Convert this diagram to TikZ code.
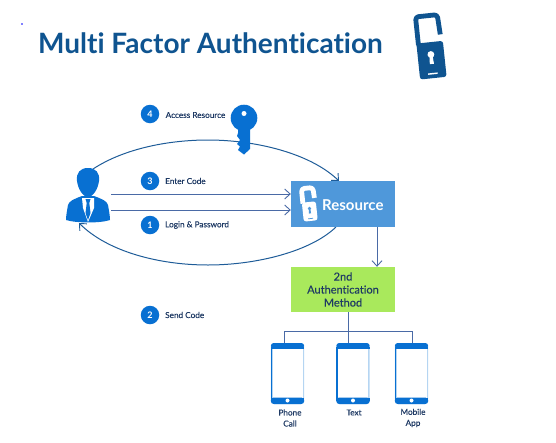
\documentclass[tikz,border=0pt]{standalone}
\usepackage{fontspec}
\setmainfont[Ligatures=NoCommon]{Lato}
\newfontfamily\latomid[FakeBold=0.2,Ligatures=NoCommon]{Lato}
\usetikzlibrary{arrows.meta}
\definecolor{titleblue}{HTML}{0F5490}
\definecolor{iconblue}{HTML}{0870D2}
\definecolor{arcblue}{HTML}{1E5C98}
\definecolor{linkblue}{HTML}{4A6AA6}
\definecolor{boxblue}{HTML}{4F98DA}
\definecolor{boxgreen}{HTML}{A9E95C}
\definecolor{navy}{HTML}{1F3A64}
\definecolor{paleblue}{HTML}{B5D5F2}
\tikzset{
  x=1pt,y=-1pt,
  arc/.style={draw=arcblue,line width=1pt},
  link/.style={draw=linkblue,line width=1pt},
  tip/.style={-{Straight Barb[length=5.5pt,width=10pt,line width=.9pt]}},
  badge/.style={circle,fill=iconblue,text=white,minimum size=18.5pt,inner sep=0pt,font=\fontsize{9}{9}\selectfont\bfseries},
  caption/.style={anchor=west,inner sep=0pt,text=navy,font=\fontsize{8.2}{9}\latomid\selectfont},
  phonelabel/.style={align=center,inner sep=0pt,text=navy,font=\fontsize{8.2}{11}\latomid\selectfont},
  phonebox/.style={minimum width=33pt,minimum height=61pt,inner sep=0pt},
  lockicon/.pic={
    \draw[lockfg,line width=4.8pt,line join=round,rounded corners=3pt] (-12,-2) -- (-12,-32) -- (11,-32) -- (12,-11);
    \fill[lockfg,rounded corners=2.5pt] (-14,-4) rectangle (14,34);
    \fill[lockbg] (0,9) circle (3.6);
    \fill[lockbg] (-1.6,10) -- (1.6,10) -- (2.2,19) -- (-2.2,19) -- cycle;
    \fill[lockbg] (-5,28.5) rectangle (5,30);
  },
  phoneicon/.pic={
    \fill[paleblue,rounded corners=3pt] (-16.7,-30.5) rectangle (16.7,30.5);
    \fill[white] (-15,-26) rectangle (15,26);
    \fill[iconblue,rounded corners=3pt] (-16.7,-30.5) rectangle (16.7,-25);
    \fill[iconblue] (-16.7,-27) rectangle (16.7,-25);
    \fill[iconblue,rounded corners=3pt] (-16.7,24) rectangle (16.7,30.5);
    \fill[iconblue] (-16.7,24) rectangle (16.7,27);
    \fill[iconblue] (-16.7,-27) rectangle (-15.5,26);
    \fill[white] (0,27) circle (2);
  }
}
\begin{document}
\begin{tikzpicture}
\useasboundingbox (0,0) rectangle (556,442);
\fill[blue] (22,24) circle (.9);
\node[anchor=west,inner sep=0pt,text=titleblue,font=\fontsize{28}{32}\selectfont\bfseries] (title) at (38,43) {Multi Factor Authentication};
\colorlet{lockfg}{titleblue}\colorlet{lockbg}{white}
\pic at (430,46) [rotate=6,scale=.95] {lockicon};
% ellipse arcs
\draw[arc,tip] (93,169) .. controls (125,148) and (170,140) .. (208,140) .. controls (255,140) and (310,153) .. (339,181) coordinate (topend);
\draw[arc,tip] (336,227) .. controls (310,252) and (255,265) .. (208,265) .. controls (160,265) and (108,252) .. (79,223) coordinate (botend);
% key
\fill[iconblue] (244,118) circle (13.3);
\fill[iconblue] (238,126) -- (250,126) -- (250,149) -- (244,154.5) -- (238,150) -- (240,146.5) -- (237,144) -- (240,140) -- (237,136) -- (238,133) -- cycle;
\fill[white] (244,113.5) circle (2.5);
% person
\node[minimum width=44pt,minimum height=56pt,inner sep=0pt] (user) at (88,196) {};
\fill[iconblue] (88,168) .. controls (80,168) and (76,173) .. (77,181) .. controls (78,189) and (83,197) .. (88,197) .. controls (93,197) and (98,189) .. (99,181) .. controls (100,173) and (96,168) .. (88,168) -- cycle;
\fill[iconblue] (82,196) .. controls (74,199) and (69,201) .. (68,205) .. controls (67,211) and (66,216) .. (66,220) .. controls (75,223) and (100,223.5) .. (110,220) .. controls (110,216) and (109,211) .. (108,205) .. controls (107,201) and (102,199) .. (94,196) -- cycle;
\fill[white] (82,198) -- (94,198) -- (94,208) -- (88,222) -- (83,208) -- cycle;
\fill[iconblue] (85.5,199) -- (90.5,199) -- (89.3,203) -- (90.5,213) -- (88,220) -- (85.5,213) -- (86.7,203) -- cycle;
% connectors
\node[fill=boxblue,minimum width=104pt,minimum height=46pt,inner sep=0pt] (res) at (343,204) {};
\node[anchor=west,inner sep=0pt,text=white,font=\fontsize{15}{16}\selectfont\bfseries] (reslabel) at (322,205) {Resource};
\colorlet{lockfg}{white}\colorlet{lockbg}{boxblue}
\pic at (309,204) [rotate=6,scale=.5] {lockicon};
\node[fill=boxgreen,minimum width=104pt,minimum height=45pt,inner sep=0pt,align=center,text=navy,font=\fontsize{11}{13}\latomid\selectfont] (method) at (343,289.5) {2nd\\Authentication\\Method};
\coordinate (enterfrom) at (111,194);
\coordinate (loginfrom) at (111,210);
\draw[link,tip] (enterfrom) -- (enterfrom -| res.west);
\draw[link,tip] (loginfrom) -- (loginfrom -| res.west);
\coordinate (downat) at (377,227);
\draw[link,tip] (downat) -- (downat |- method.north);
% badges
\node[badge] (b4) at (150,114) {4};
\node[caption] (c4) at (165.5,115) {Access Resource};
\node[badge] (b3) at (150,181) {3};
\node[caption] (c3) at (165,181) {Enter Code};
\node[badge] (b1) at (150,225) {1};
\node[caption] (c1) at (165,225) {Login \& Password};
\node[badge] (b2) at (150,315) {2};
\node[caption] (c2) at (165,315) {Send Code};
% phones
\node[phonebox] (p1) at (287.5,373.5) {};
\node[phonebox] (p2) at (353,373.5) {};
\node[phonebox] (p3) at (411.5,373.5) {};
\coordinate (bar) at (348,331);
\draw[link] (method.south -| bar) -- (bar);
\draw[link] (284,343) -- (284,331) -- (412,331) -- (412,343);
\draw[link] (bar) -- (348,343);
\pic at (p1) {phoneicon};
\pic at (p2) {phoneicon};
\pic at (p3) {phoneicon};
\node[phonelabel] (l1) at (290,418) {Phone\\Call};
\node[phonelabel] (l2) at (354,412.5) {Text};
\node[phonelabel] (l3) at (413,418) {Mobile\\App};
\end{tikzpicture}
\end{document}
